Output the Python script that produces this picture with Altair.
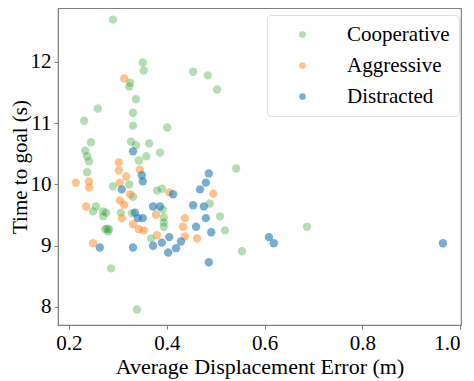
import altair as alt
import pandas as pd

coop_x = [0.290, 0.351, 0.353, 0.325, 0.323, 0.454, 0.484, 0.503, 0.337, 0.259,
          0.331, 0.231, 0.331, 0.401, 0.245, 0.327, 0.337, 0.364, 0.233, 0.237,
          0.241, 0.358, 0.386, 0.343, 0.237, 0.542, 0.290, 0.323, 0.331, 0.380,
          0.390, 0.488, 0.255, 0.249, 0.270, 0.276, 0.270, 0.306, 0.329, 0.392,
          0.394, 0.394, 0.394, 0.509, 0.519, 0.278, 0.282, 0.280, 0.274, 0.368,
          0.286, 0.339, 0.554, 0.687]
coop_y = [12.69, 11.99, 11.86, 11.66, 11.60, 11.84, 11.78, 11.55, 11.39, 11.24,
          11.17, 11.04, 10.96, 10.93, 10.69, 10.70, 10.64, 10.67, 10.55, 10.46,
          10.38, 10.46, 10.52, 10.39, 10.20, 10.26, 9.97, 10.00, 9.80, 9.90,
          9.93, 9.69, 9.64, 9.56, 9.56, 9.54, 9.48, 9.54, 9.53, 9.59,
          9.46, 9.38, 9.31, 9.48, 9.25, 9.28, 9.27, 9.23, 9.27, 9.12,
          8.63, 7.96, 8.91, 9.31]

aggr_x = [0.313, 0.302, 0.302, 0.345, 0.317, 0.214, 0.241, 0.241, 0.304, 0.325,
          0.304, 0.313, 0.235, 0.405, 0.495, 0.378, 0.308, 0.331, 0.343, 0.353,
          0.437, 0.433, 0.437, 0.462, 0.380, 0.249]
aggr_y = [11.73, 10.36, 10.23, 10.24, 10.13, 10.03, 10.05, 9.95, 10.03, 9.84,
          9.74, 9.67, 9.64, 9.87, 9.85, 9.51, 9.45, 9.35, 9.27, 9.25,
          9.45, 9.31, 9.15, 9.12, 9.17, 9.04]

dist_x = [0.331, 0.349, 0.351, 0.486, 0.480, 0.468, 0.308, 0.413, 0.372, 0.386,
          0.454, 0.476, 0.335, 0.341, 0.351, 0.480, 0.460, 0.491, 0.429, 0.419,
          0.403, 0.405, 0.390, 0.372, 0.263, 0.331, 0.486, 0.609, 0.619, 0.965]
dist_y = [10.54, 10.15, 10.05, 10.18, 10.03, 9.92, 9.92, 9.84, 9.64, 9.64,
          9.66, 9.64, 9.54, 9.45, 9.45, 9.45, 9.31, 9.22, 9.07, 8.96,
          8.89, 9.14, 9.05, 9.00, 8.97, 8.97, 8.73, 9.14, 9.04, 9.04]

categories = ["Cooperative", "Aggressive", "Distracted"]
colors = ["#2ca02c", "#ff7f0e", "#1f77b4"]
opacities = [0.36, 0.6, 0.75]

rows = []
for name, xs, ys in zip(categories, [coop_x, aggr_x, dist_x], [coop_y, aggr_y, dist_y]):
    for xv, yv in zip(xs, ys):
        rows.append({"ade": xv, "time": yv, "group": name})
df = pd.DataFrame(rows)
df["order"] = range(len(df))

FONT = "'Liberation Serif', serif"

axis_common = dict(
    labelFont=FONT, titleFont=FONT, labelFontSize=21,
    labelColor="black", titleColor="black", titleFontWeight="normal",
    domainColor="#808080", tickColor="#808080", tickSize=4, labelPadding=3,
    grid=False,
)
legend_common = dict(
    title=None, orient="none", legendX=209, legendY=7,
    labelFont=FONT, labelFontSize=21, labelColor="black",
    strokeColor="#dddddd", fillColor="white", cornerRadius=4,
    padding=9, rowPadding=9, symbolSize=45, symbolOffset=16, labelOffset=34,
    symbolType="circle",
)

chart = alt.Chart(df).mark_circle(size=70).encode(
    x=alt.X("ade:Q", scale=alt.Scale(domain=[0.1775, 1.002], nice=False, zero=False),
            axis=alt.Axis(title="Average Displacement Error (m)", values=[0.2, 0.4, 0.6, 0.8, 1.0],
                          format=".1f", titlePadding=3, titleFontSize=22, **axis_common)),
    y=alt.Y("time:Q", scale=alt.Scale(domain=[7.706, 12.88], nice=False, zero=False),
            axis=alt.Axis(title="Time to goal (s)", values=[8, 9, 10, 11, 12],
                          titlePadding=0, titleFontSize=21, **axis_common)),
    color=alt.Color("group:N", scale=alt.Scale(domain=categories, range=colors),
                    legend=alt.Legend(**legend_common)),
    opacity=alt.Opacity("group:N", scale=alt.Scale(domain=categories, range=opacities),
                        legend=alt.Legend(**legend_common)),
    order=alt.Order("order:Q"),
).properties(
    width=403, height=317,
    autosize=alt.AutoSizeParams(type="none"),
    padding={"left": 50, "top": 0, "right": 5, "bottom": 56},
).configure_view(
    stroke="#808080", strokeWidth=1.2
)

chart.save("out.html", embed_options={"renderer": "svg", "actions": False})
